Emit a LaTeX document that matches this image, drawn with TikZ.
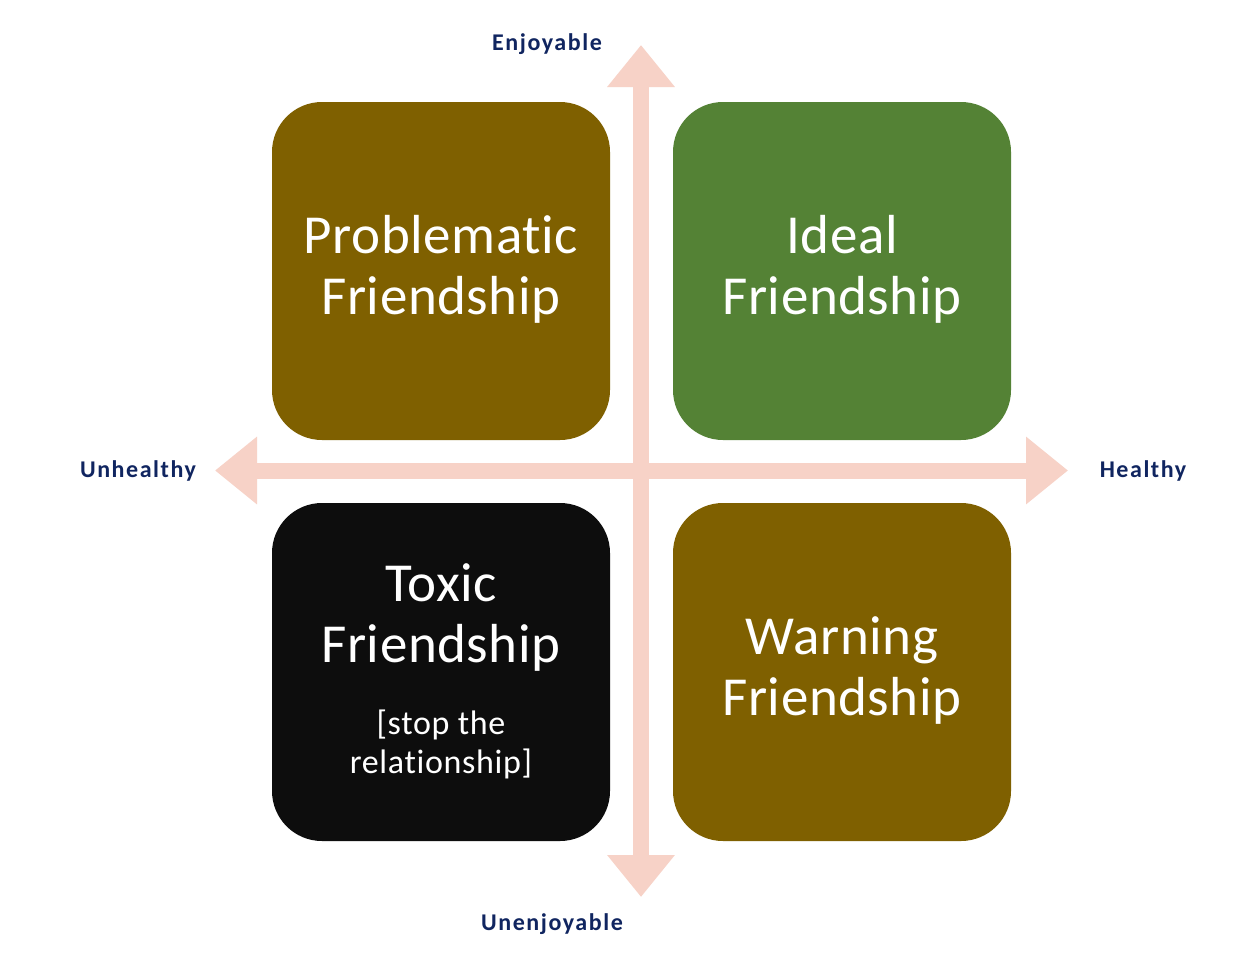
\documentclass[tikz,border=0pt]{standalone}
\usepackage{fontspec}
\setmainfont{Carlito}[Ligatures=NoCommon]
\newfontfamily\bigfont{Carlito}[LetterSpace=1,Ligatures=NoCommon]
\newfontfamily\smallfont{Carlito}[LetterSpace=2,Ligatures=NoCommon]
\newfontfamily\labelfont{Carlito}[LetterSpace=6.5,Ligatures=NoCommon]
\usetikzlibrary{arrows.meta}
\definecolor{brownq}{RGB}{127,96,0}
\definecolor{greenq}{RGB}{84,130,53}
\definecolor{blackq}{RGB}{13,13,13}
\definecolor{axisc}{RGB}{247,210,199}
\definecolor{navy}{RGB}{16,37,96}
\tikzset{
  quad/.style={rounded corners=50pt, minimum width=338pt, minimum height=338pt, inner sep=0pt, draw=none},
  bigtext/.style={text=white, align=center, font=\bigfont\fontsize{55}{61}\selectfont},
  smalltext/.style={text=white, align=center, font=\smallfont\fontsize{34}{39}\selectfont},
  axislabel/.style={text=navy, font=\labelfont\bfseries\fontsize{24}{28}\selectfont},
  axisline/.style={draw=axisc, line width=16pt, {Triangle[length=42pt,width=65pt]}-{Triangle[length=42pt,width=65pt]}}
}
\begin{document}
\begin{tikzpicture}[x=1pt,y=-1pt]
\fill[white] (0,0) rectangle (1252,977);
\useasboundingbox (0,0) rectangle (1252,977);
% axes
\coordinate (top) at (641,45);
\coordinate (bottom) at (641,897);
\coordinate (left) at (215,470.5);
\coordinate (right) at (1068,470.5);
\draw[axisline] (left) -- (right);
\draw[axisline] (bottom) -- (top);
% quadrants
\node[quad, fill=brownq] (pf) at (441,271) {};
\node[quad, fill=greenq] (if) at (842,271) {};
\node[quad, fill=blackq] (tf) at (441,672) {};
\node[quad, fill=brownq] (wf) at (842,672) {};
\node[bigtext] (pft) at (441,269) {Problematic\\Friendship};
\node[bigtext] (ift) at (842,269) {Ideal\\Friendship};
\node[bigtext] (tft) at (441,618) {Toxic\\Friendship};
\node[smalltext] (tfs) at (441,744) {[stop the\\relationship]};
\node[bigtext] (wft) at (842,671) {Warning\\Friendship};
% labels
\node[axislabel] (enj) at (547,44) {Enjoyable};
\node[axislabel] (unenj) at (552,924) {Unenjoyable};
\node[axislabel] (unh) at (138,471) {Unhealthy};
\node[axislabel] (hea) at (1143,471) {Healthy};
\end{tikzpicture}
\end{document}
